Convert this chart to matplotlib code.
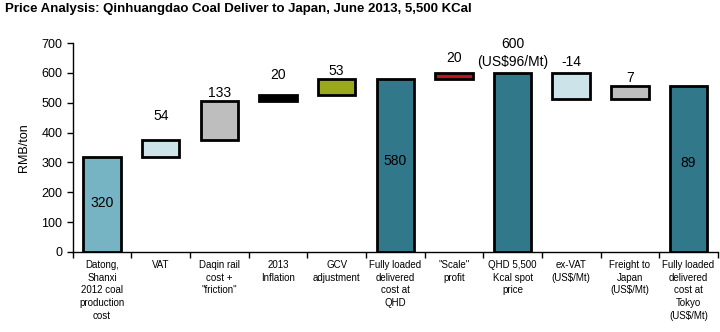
import matplotlib
matplotlib.use("Agg")
import matplotlib.pyplot as plt
import numpy as np

plt.rcParams['font.family'] = ['Liberation Sans', 'DejaVu Sans']

# Waterfall steps: RMB/ton for the first eight, US$/Mt for the last three
categories = [
    "Datong,\nShanxi\n2012 coal\nproduction\ncost",
    "VAT",
    "Daqin rail\ncost +\n\"friction\"",
    "2013\nInflation",
    "GCV\nadjustment",
    "Fully loaded\ndelivered\ncost at\nQHD",
    "\"Scale\"\nprofit",
    "QHD 5,500\nKcal spot\nprice",
    "ex-VAT\n(US$/Mt)",
    "Freight to\nJapan\n(US$/Mt)",
    "Fully loaded\ndelivered\ncost at\nTokyo\n(US$/Mt)",
]
values = [320, 54, 133, 20, 53, 580, 20, 600, -14, 7, 89]
kinds = ["total", "delta", "delta", "delta", "delta", "total",
         "delta", "total", "delta", "delta", "total"]
units = ["RMB"] * 8 + ["USD"] * 3
value_labels = ["320", "54", "133", "20", "53", "580", "20",
                "600\n(US$96/Mt)", "-14", "7", "89"]
usd_rate = 600 / 96  # RMB per US$ implied by the spot price

colors = ["#76b3c3", "#cde3ea", "#bebebe", "#000000", "#9aa81c", "#31788b",
          "#c0141c", "#31788b", "#cde3ea", "#bebebe", "#31788b"]

# label centres (in RMB/ton axis units)
label_y = [165, 456, 532, 593, 607, 305, 650, 667, 636, 583, 298]

bottoms, heights = [], []
level = 0.0
for v, k, u in zip(values, kinds, units):
    vv = v * usd_rate if u == "USD" else v
    if k == "total":
        bottoms.append(0.0)
        heights.append(vv)
        level = vv
    else:
        bottoms.append(level)
        heights.append(vv)
        level += vv

fig = plt.figure(figsize=(7.2, 3.32), dpi=100)
ax = fig.add_axes([0.101, 0.241, 0.896, 0.629])

x = np.arange(len(categories))
ax.bar(x, heights, bottom=bottoms, width=0.64, color=colors,
       edgecolor="black", linewidth=2, zorder=3)

for xi, lab, ly, k in zip(x, value_labels, label_y, kinds):
    if lab.startswith("600"):
        ax.text(xi, 697, "600", ha="center", va="center", fontsize=10)
        ax.text(xi, 636, "(US$96/Mt)", ha="center", va="center", fontsize=10)
    else:
        ax.text(xi, ly, lab, ha="center", va="center", fontsize=10, zorder=4)

ax.set_xlim(-0.5, len(categories) - 0.5)
ax.set_ylim(0, 700)
ax.set_yticks(np.arange(0, 701, 100))
ax.tick_params(axis="y", labelsize=9, direction="out", length=4, width=1)

ax.set_xticks(x)
ax.set_xticklabels(categories, fontsize=7, linespacing=1.32, va="top")
ax.tick_params(axis="x", which="major", length=0, pad=6)
ax.set_xticks(np.arange(-0.5, len(categories), 1.0), minor=True)
ax.tick_params(axis="x", which="minor", direction="out", length=4, width=1)

for s in ["top", "right"]:
    ax.spines[s].set_visible(False)
ax.spines["left"].set_linewidth(1)
ax.spines["bottom"].set_linewidth(1)

ax.set_ylabel("RMB/ton", fontsize=9, labelpad=8)

fig.text(0.007, 0.99, "Price Analysis: Qinhuangdao Coal Deliver to Japan, June 2013, 5,500 KCal",
         fontsize=9.5, fontweight="bold", ha="left", va="top")

fig.savefig("out.png", dpi=100)
